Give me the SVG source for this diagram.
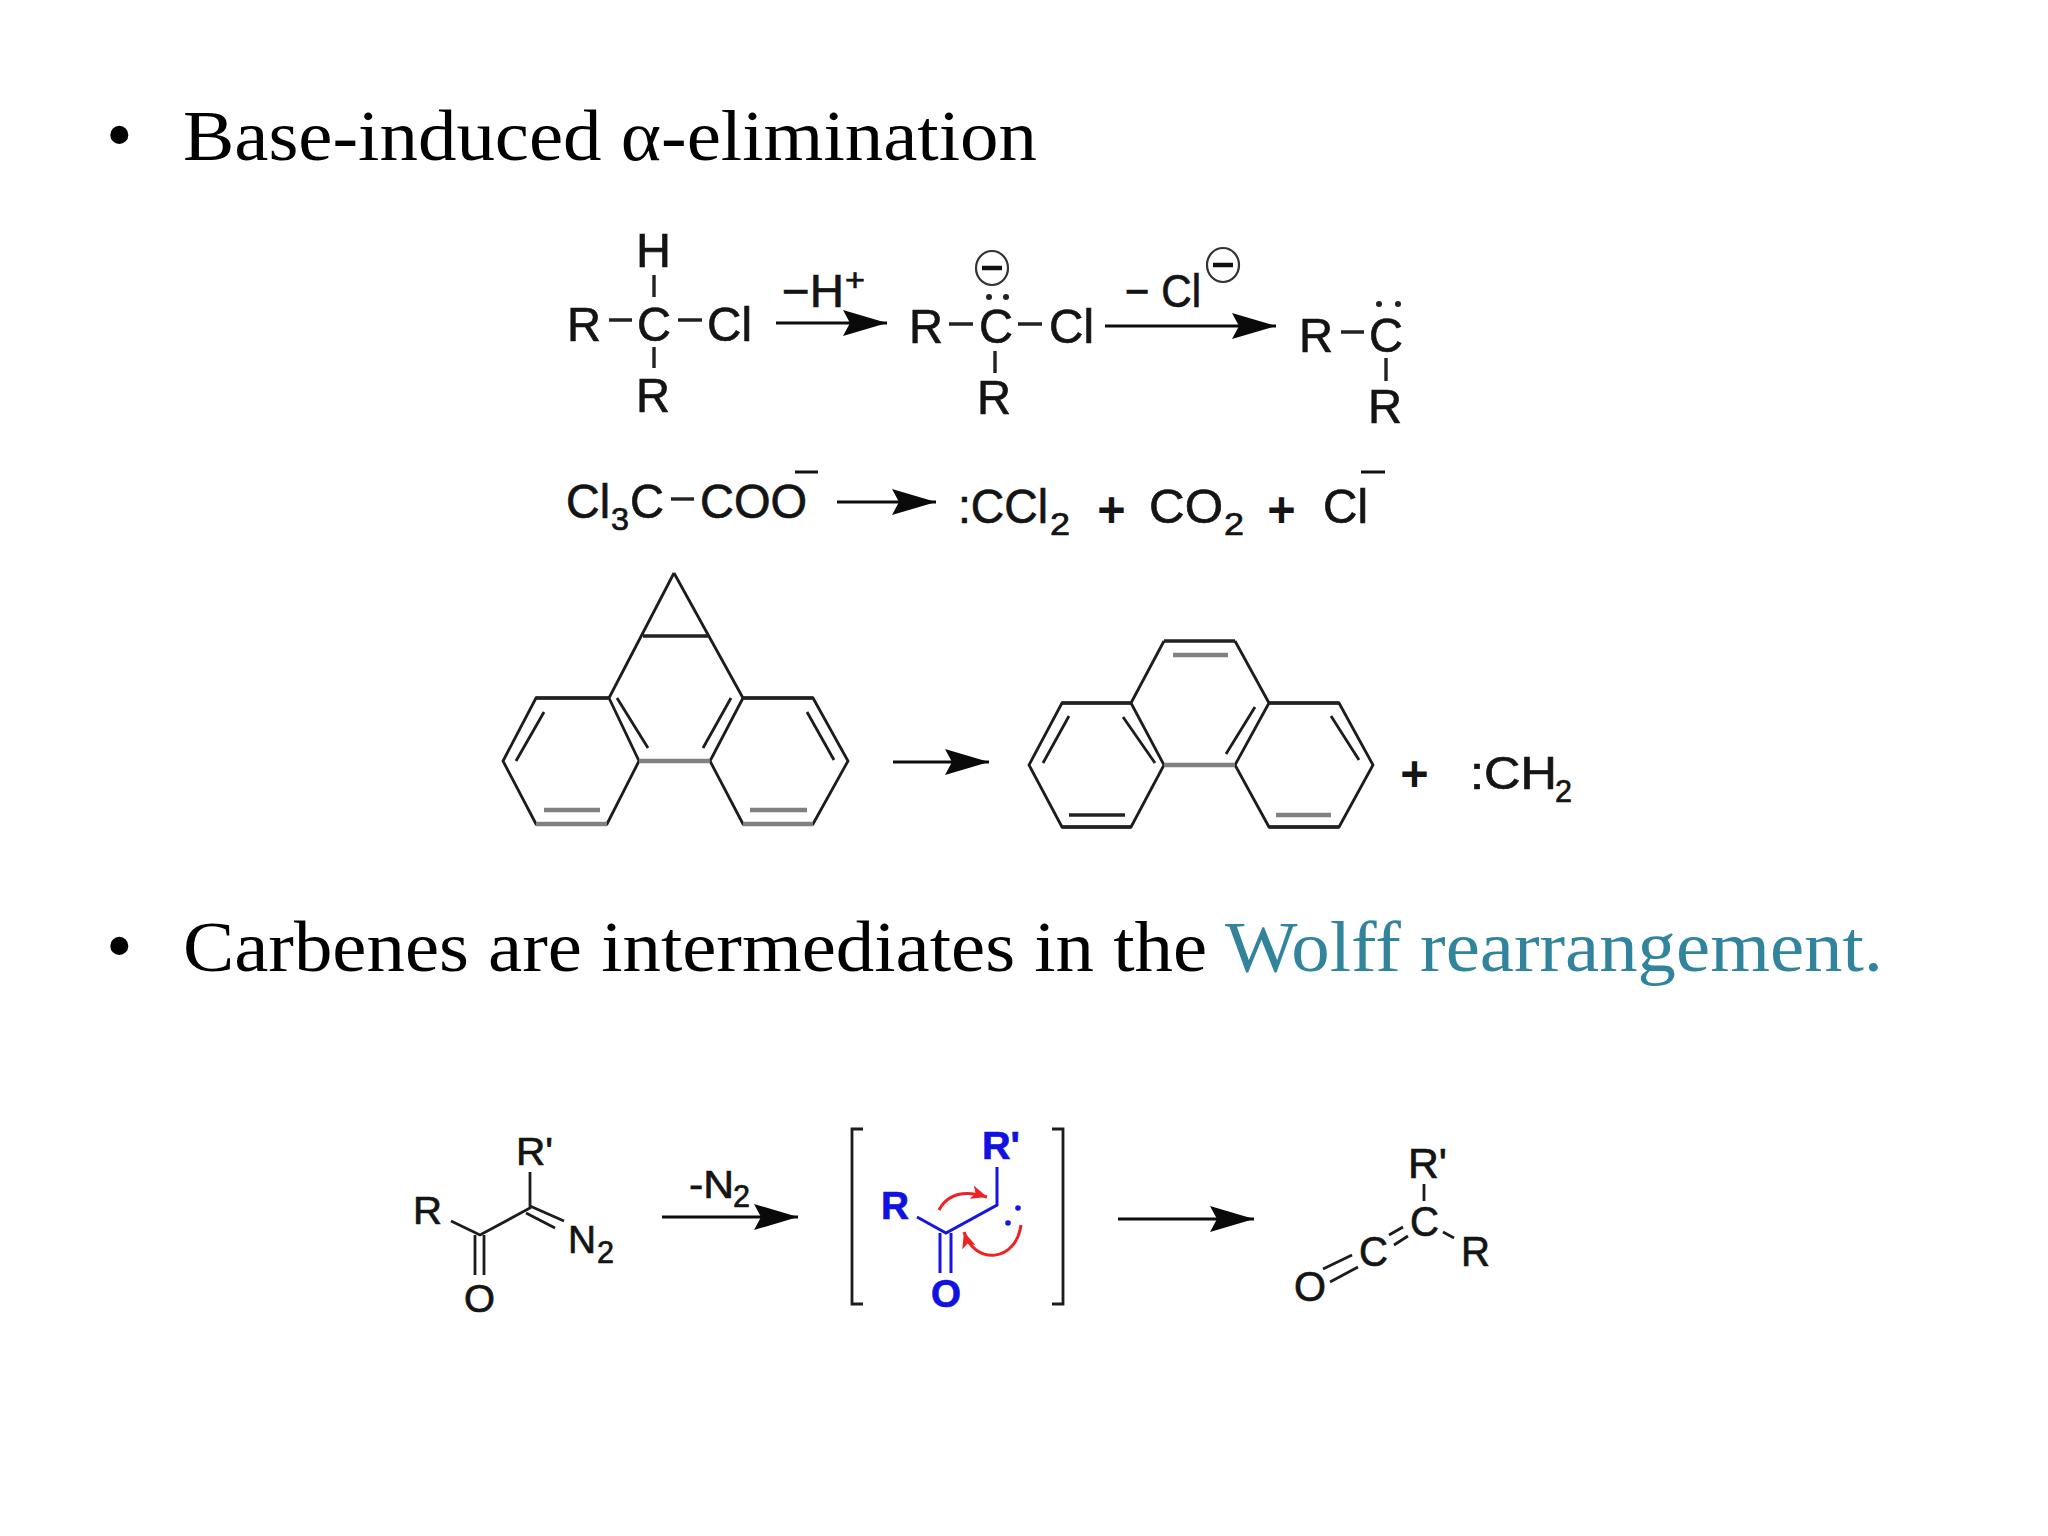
<svg xmlns="http://www.w3.org/2000/svg" width="2048" height="1536" viewBox="0 0 2048 1536">
<style>
text{font-family:"Liberation Sans",Arial,sans-serif;fill:#141414;stroke:#141414;stroke-width:.7}
.t{font-family:"Liberation Serif","Times New Roman",serif;font-size:72px;fill:#000;stroke:none}
.teal{fill:#31849b}
.a{font-size:49px}
.s{font-size:32px}
.h{font-size:46px}
.b{font-size:39px}
.c{font-size:42px}
.blue{font-weight:bold;fill:#1212e0;stroke:#1212e0}
.plus{stroke-width:2}
.bond{stroke:#222;stroke-width:3.4;fill:none;stroke-linecap:butt}
.thin{stroke:#1c1c1c;stroke-width:2.8;fill:none}
.grey{stroke:#808080;stroke-width:4.5;fill:none}
.wb{stroke:#1616e0;stroke-width:3;fill:none}
.arr{stroke:#0c0c0c;stroke-width:3.2;fill:none;marker-end:url(#head)}
.red{stroke:#ee2222;stroke-width:3;fill:none;marker-end:url(#rh)}
.chg{fill:none;stroke:#333;stroke-width:2.2}
.min{stroke:#111;stroke-width:4.5}
.dot{fill:#222}
</style>
<defs>
<marker id="head" markerUnits="userSpaceOnUse" markerWidth="46" markerHeight="28" refX="44" refY="14" orient="auto"><path d="M0 1 L44 14 L0 27 L7 14Z" fill="#0a0a0a"/></marker>
<marker id="rh" markerUnits="userSpaceOnUse" markerWidth="18" markerHeight="14" refX="16" refY="7" orient="auto"><path d="M0 0 L16 7 L0 14 L4 7Z" fill="#ee2222"/></marker>
</defs>
<rect width="2048" height="1536" fill="#fff"/>

<g id="heading1">
<text class="t" x="106" y="160" style="font-size:76px">•</text>
<text class="t" x="183" y="160" textLength="854" lengthAdjust="spacingAndGlyphs">Base-induced α-elimination</text>
</g>
<g id="heading2">
<text class="t" x="106" y="971" style="font-size:76px">•</text>
<text class="t" x="183" y="971" textLength="1700" lengthAdjust="spacingAndGlyphs">Carbenes are intermediates in the <tspan class="teal">Wolff rearrangement.</tspan></text>
</g>

<g id="mol-rcclhr">
<text class="a" x="567" y="341" textLength="34" lengthAdjust="spacingAndGlyphs">R</text>
<text class="a" x="637" y="341" textLength="34" lengthAdjust="spacingAndGlyphs">C</text>
<text class="a" x="636" y="267" textLength="35" lengthAdjust="spacingAndGlyphs">H</text>
<text class="a" x="707" y="341" textLength="45" lengthAdjust="spacingAndGlyphs">Cl</text>
<text class="a" x="636" y="412" textLength="34" lengthAdjust="spacingAndGlyphs">R</text>
<path class="bond" d="M654 275V297M654 347V368M609 320H632M678 320H702"/>
</g>
<g id="mol-anion">
<text class="a" x="909" y="343" textLength="34" lengthAdjust="spacingAndGlyphs">R</text>
<text class="a" x="979" y="343" textLength="34" lengthAdjust="spacingAndGlyphs">C</text>
<text class="a" x="1049" y="343" textLength="45" lengthAdjust="spacingAndGlyphs">Cl</text>
<text class="a" x="977" y="414" textLength="34" lengthAdjust="spacingAndGlyphs">R</text>
<path class="bond" d="M995 351V373M949 324H973M1018 324H1042"/>
<circle class="dot" cx="989" cy="297" r="3"/><circle class="dot" cx="1006" cy="297" r="3"/>
<ellipse class="chg" cx="992" cy="268" rx="16" ry="17"/><path class="min" d="M982 268H1002"/>
</g>
<g id="mol-carbene">
<text class="a" x="1299" y="352" textLength="34" lengthAdjust="spacingAndGlyphs">R</text>
<text class="a" x="1369" y="352" textLength="34" lengthAdjust="spacingAndGlyphs">C</text>
<text class="a" x="1368" y="423" textLength="34" lengthAdjust="spacingAndGlyphs">R</text>
<path class="bond" d="M1386 358V381M1341 332H1364"/>
<circle class="dot" cx="1379" cy="304" r="3"/><circle class="dot" cx="1398" cy="304" r="3"/>
</g>
<g id="label-h">
<text class="h" x="782" y="307" textLength="62" lengthAdjust="spacingAndGlyphs">−H</text>
<text class="s" x="845" y="291" textLength="20" lengthAdjust="spacingAndGlyphs">+</text>
</g>
<g id="label-cl">
<text class="h" x="1125" y="307" textLength="76" lengthAdjust="spacingAndGlyphs">−  Cl</text>
<ellipse class="chg" cx="1223" cy="265" rx="16" ry="17"/><path class="min" d="M1213 265H1233"/>
</g>

<g id="row2">
<text class="a" x="566" y="518" textLength="44" lengthAdjust="spacingAndGlyphs">Cl</text>
<text class="s" x="611" y="530" textLength="18" lengthAdjust="spacingAndGlyphs">3</text>
<text class="a" x="630" y="518" textLength="34" lengthAdjust="spacingAndGlyphs">C</text>
<text class="a" x="700" y="518" textLength="107" lengthAdjust="spacingAndGlyphs">COO</text>
<path class="bond" d="M671 499H694"/>
<path class="min" style="stroke-width:3" d="M795 472H818"/>
<text class="a" x="958" y="523" textLength="90" lengthAdjust="spacingAndGlyphs">:CCl</text>
<text class="s" x="1050" y="535" textLength="20" lengthAdjust="spacingAndGlyphs">2</text>
<text class="a plus" x="1098" y="526" textLength="27" lengthAdjust="spacingAndGlyphs">+</text>
<text class="a" x="1149" y="523" textLength="74" lengthAdjust="spacingAndGlyphs">CO</text>
<text class="s" x="1224" y="535" textLength="20" lengthAdjust="spacingAndGlyphs">2</text>
<text class="a plus" x="1268" y="526" textLength="27" lengthAdjust="spacingAndGlyphs">+</text>
<text class="a" x="1323" y="523" textLength="45" lengthAdjust="spacingAndGlyphs">Cl</text>
<path class="min" style="stroke-width:3" d="M1361 472H1385"/>
</g>

<g id="mol-cyclopropa">
<path class="thin" d="M674 573L609 698L536 698L503 761L536 824L607 824L639 761L609 698M674 573L743 698L813 698L848 761L813 824L743 824L710 761L743 698M639 761H710"/>
<path class="bond" d="M643 636H709M536 698H609M743 698H813"/>
<path class="thin" d="M544 712L516 761M617 698L648 748M731 698L703 748M807 712L834 760"/>
<path class="grey" d="M639 761H710M544 810H600M750 810H807M536 824H607M743 824H813"/>
</g>
<g id="mol-phenanthrene">
<path class="thin" d="M1164 641L1131 703L1062 703L1029 765L1062 827L1131 827L1164 765L1131 703M1235 641L1269 703L1339 703L1373 765L1339 827L1269 827L1235 765L1269 703M1164 765H1235"/>
<path class="bond" d="M1164 641H1235M1062 703H1131M1269 703H1339M1062 827H1131M1269 827H1339"/>
<path class="thin" d="M1069 716L1043 763M1123 717L1155 763M1255 707L1226 754M1331 716L1359 760"/>
<path class="bond" d="M1069 815H1125"/>
<path class="grey" d="M1173 655H1228M1276 815H1331M1164 765H1235"/>
</g>
<g id="label-ch2">
<text class="a plus" x="1401" y="790" textLength="27" lengthAdjust="spacingAndGlyphs">+</text>
<text class="h" x="1470" y="789" textLength="87" lengthAdjust="spacingAndGlyphs">:CH</text>
<text class="s" x="1555" y="802" textLength="17" lengthAdjust="spacingAndGlyphs">2</text>
</g>

<g id="mol-diazo">
<text class="b" x="516" y="1165" textLength="37" lengthAdjust="spacingAndGlyphs">R'</text>
<text class="b" x="413" y="1224" textLength="29" lengthAdjust="spacingAndGlyphs">R</text>
<text class="b" x="464" y="1312" textLength="31" lengthAdjust="spacingAndGlyphs">O</text>
<text class="b" x="568" y="1253" textLength="28" lengthAdjust="spacingAndGlyphs">N</text>
<text class="s" x="597" y="1263" textLength="17" lengthAdjust="spacingAndGlyphs">2</text>
<path class="thin" d="M451 1221L480 1235L530 1208V1172M530 1206L564 1221M526 1213L555 1228M475 1235V1275M484 1235V1275"/>
</g>
<g id="label-n2">
<text class="b" x="689" y="1198" textLength="45" lengthAdjust="spacingAndGlyphs">-N</text>
<text class="s" x="733" y="1207" textLength="17" lengthAdjust="spacingAndGlyphs">2</text>
</g>
<g id="mol-intermediate">
<path class="thin" d="M863 1129H852V1304H863M1052 1129H1063V1304H1052"/>
<text class="b blue" x="982" y="1159" textLength="38" lengthAdjust="spacingAndGlyphs">R'</text>
<text class="b blue" x="881" y="1219" textLength="28" lengthAdjust="spacingAndGlyphs">R</text>
<text class="b blue" x="931" y="1307" textLength="30" lengthAdjust="spacingAndGlyphs">O</text>
<path class="wb" d="M917 1217L946 1233L997 1205V1167M940 1233V1273M951 1233V1273"/>
<circle cx="1018" cy="1208" r="2.8" fill="#1616e0"/><circle cx="1008" cy="1223" r="2.8" fill="#1616e0"/>
<path class="red" d="M939 1210Q952 1186 987 1197"/>
<path class="red" d="M1021 1225C1016 1262 975 1266 964 1232"/>
</g>
<g id="mol-ketene">
<text class="c" x="1408" y="1178" textLength="39" lengthAdjust="spacingAndGlyphs">R'</text>
<text class="c" x="1410" y="1236" textLength="29" lengthAdjust="spacingAndGlyphs">C</text>
<text class="c" x="1461" y="1266" textLength="29" lengthAdjust="spacingAndGlyphs">R</text>
<text class="c" x="1359" y="1266" textLength="29" lengthAdjust="spacingAndGlyphs">C</text>
<text class="c" x="1294" y="1301" textLength="32" lengthAdjust="spacingAndGlyphs">O</text>
<path class="thin" d="M1424 1184V1201M1443 1232L1454 1238M1389 1235L1403 1227M1394 1245L1408 1236M1323 1269L1352 1255M1330 1282L1358 1267"/>
</g>

<g id="connectors">
<path class="arr" d="M776 323H887"/>
<path class="arr" d="M1105 326H1276"/>
<path class="arr" d="M837 502H936"/>
<path class="arr" d="M893 762H989"/>
<path class="arr" d="M662 1217H798"/>
<path class="arr" d="M1118 1219H1254"/>
</g>
</svg>
